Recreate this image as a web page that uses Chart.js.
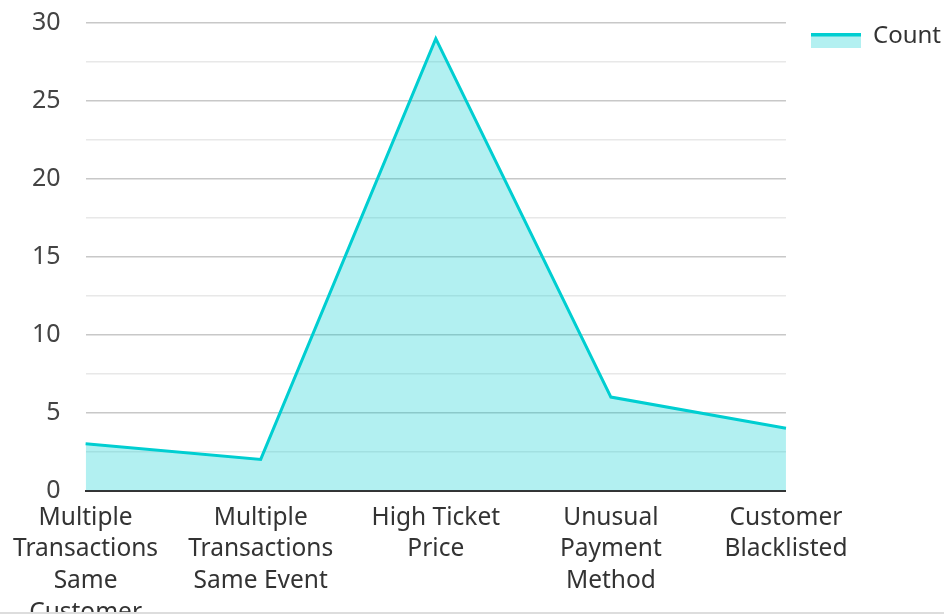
<!DOCTYPE html>
<html>
<head>
<meta charset="utf-8">
<script src="https://cdn.jsdelivr.net/npm/chart.js@4"></script>
<style>
  body { margin: 0; background: #fff; }
  #frame { width: 944px; height: 612px; overflow: hidden; border-bottom: 2px solid #ddd; }
  #wrap { width: 944px; height: 632px; position: relative; }
</style>
</head>
<body>
<div id="frame"><div id="wrap"><canvas id="chart"></canvas></div></div>
<script>
const categories = [
  ["Multiple", "Transactions", "Same", "Customer"],
  ["Multiple", "Transactions", "Same Event"],
  ["High Ticket", "Price"],
  ["Unusual", "Payment", "Method"],
  ["Customer", "Blacklisted"]
];
const counts = [3, 2, 29, 6, 4];
const seriesName = "Count";

const lineColor = "#00ced1";
const fillColor = "rgba(0, 206, 209, 0.3)";

Chart.defaults.font.family = "'Noto Sans', sans-serif";
Chart.defaults.font.size = 24;

// legend swatch: thick line on top, light fill below (blank strip on the left for spacing)
const swatch = document.createElement("canvas");
swatch.width = 59;
swatch.height = 24;
const sc = swatch.getContext("2d");
sc.fillStyle = "#b3f0f1";
sc.fillRect(9, 12, 50, 12);
sc.fillStyle = lineColor;
sc.fillRect(9, 9, 50, 3.5);

const chart = new Chart(document.getElementById("chart"), {
  type: "line",
  data: {
    labels: categories,
    datasets: [{
      label: seriesName,
      data: counts,
      borderColor: lineColor,
      backgroundColor: fillColor,
      borderWidth: 3,
      fill: "origin",
      tension: 0,
      pointRadius: 0,
      pointHoverRadius: 0
    }]
  },
  options: {
    responsive: true,
    maintainAspectRatio: false,
    animation: false,
    layout: { padding: { top: 8, left: 24, right: -7, bottom: 0 } },
    plugins: {
      legend: {
        position: "right",
        align: "start",
        labels: {
          usePointStyle: true,
          pointStyle: swatch,
          pointStyleWidth: 59,
          boxHeight: 24,
          padding: 16,
          color: "#333"
        }
      },
      tooltip: { enabled: false }
    },
    scales: {
      x: {
        offset: false,
        grid: { display: false },
        border: { display: true, color: "#333", width: 2 },
        ticks: {
          color: "#333",
          padding: 3,
          maxRotation: 0,
          autoSkip: false,
          font: { size: 24.5, lineHeight: 1.3 }
        }
      },
      y: {
        min: 0,
        max: 30,
        border: { display: false },
        grid: {
          drawTicks: true,
          tickLength: 17,
          tickColor: "rgba(0,0,0,0)",
          color: ctx => (ctx.tick && ctx.tick.value % 5 === 0) ? "#c8c8c8" : "#e8e8e8",
          lineWidth: 1.5
        },
        ticks: {
          stepSize: 2.5,
          padding: 8,
          color: "#444",
          font: { size: 25 },
          callback: v => (v % 5 === 0 ? v : "")
        }
      }
    }
  }
});
</script>
</body>
</html>
